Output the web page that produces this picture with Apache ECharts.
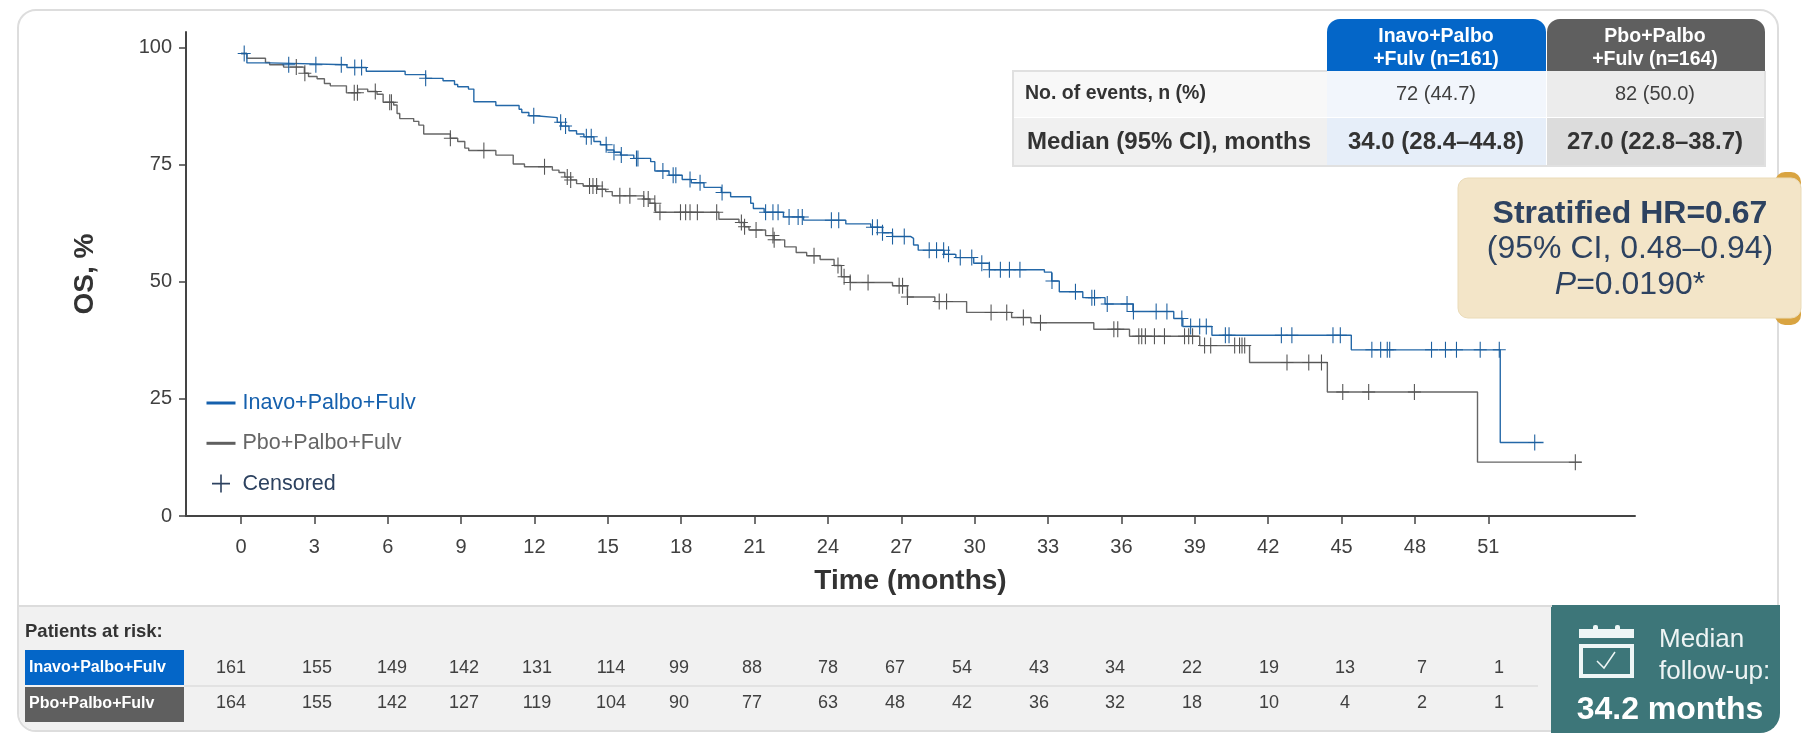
<!DOCTYPE html>
<html><head><meta charset="utf-8">
<style>html,body{margin:0;padding:0;background:#fff}#c{width:1811px;height:742px}</style>
<script src="https://cdn.jsdelivr.net/npm/echarts@6/dist/echarts.min.js"></script>
</head><body><div id="c"></div>
<script>
var inavoTimes=[0,0.24,1.17,4.33,5.12,6.71,7.55,8.26,8.73,8.86,9.30,9.52,10.42,11.37,11.48,11.77,12.04,12.93,13.09,13.41,13.72,14.02,14.43,14.70,14.95,15.25,15.52,16.06,16.75,16.92,17.5,18.04,18.41,18.93,19.64,20.02,20.84,20.95,21.39,22.18,23.0,24.73,25.75,26.23,26.64,27.39,27.5,27.69,28.75,29.23,29.96,30.6,32.85,33.15,33.46,34.42,35.33,36.47,38.14,38.51,39.70,45.4,51.49,53.26];
var inavoOS=[98.8,96.8,96.4,95.8,95.0,94.3,93.5,93.0,92.2,91.7,91.2,88.5,87.7,86.9,86.2,85.5,85.1,84.1,83.3,82.3,81.6,81.0,80.0,79.3,78.2,77.7,77.1,76.4,75.7,73.7,72.8,71.9,71.2,70.2,69.1,68.2,66.8,65.7,64.9,63.9,63.2,62.4,61.7,60.5,59.7,59.3,57.9,56.8,55.9,55.2,54.0,52.6,52.1,50.2,47.9,46.65,45.3,43.7,42.2,40.5,38.6,35.5,15.7,15.7];
var inavoCensored=[0.13,1.95,3.06,4.10,4.65,4.93,7.55,11.97,13.07,13.27,14.12,14.32,14.93,15.25,15.55,16.17,16.23,17.25,17.67,17.78,18.36,18.77,19.67,21.45,21.75,21.96,22.41,22.78,22.95,24.14,24.44,25.82,26.02,26.23,26.64,27.12,28.14,28.44,28.73,28.93,29.41,29.88,30.29,30.6,31.05,31.42,31.85,33.16,34.12,34.79,34.9,35.42,36.23,36.49,37.42,37.86,38.47,38.83,39.2,39.47,40.25,40.4,42.54,42.97,44.65,44.95,46.24,46.6,46.87,46.97,48.68,49.25,49.7,50.67,51.45,52.9];

var pboTimes=[0,0.24,1.0,1.17,1.74,2.59,2.76,3.11,3.41,3.65,4.31,4.77,5.18,5.56,5.81,6.24,6.38,6.49,7.06,7.27,7.47,8.56,8.86,9.15,9.31,10.42,11.13,11.59,12.73,13.0,13.24,13.48,13.72,13.99,14.57,14.91,15.18,16.47,16.72,16.95,19.54,20.36,20.57,20.77,21.45,21.8,22.23,22.7,23.13,23.68,24.25,24.55,24.91,26.64,27.25,28.37,29.67,31.51,32.3,34.87,36.33,39.2,41.24,44.42,50.56,54.82];
var pboOS=[98.8,97.8,96.9,96.4,95.9,94.6,93.9,93.4,92.4,91.9,90.4,91.2,90.7,90.1,88.4,87.8,86.0,84.9,84.3,83.5,81.6,80.7,80.0,78.6,78.1,77.1,75.2,74.6,73.9,73.4,72.4,71.8,71.0,70.5,69.8,69.3,68.4,67.7,66.8,64.9,63.4,62.7,61.8,61.1,59.9,59.0,57.5,56.3,55.6,54.8,53.5,51.1,49.9,49.2,46.8,45.8,43.5,42.4,41.3,39.9,38.4,36.4,32.8,26.5,11.5,11.5];
var pboCensored=[2.26,2.61,4.63,4.76,5.49,6.08,6.15,8.56,9.93,12.41,13.34,13.48,14.25,14.39,14.54,14.77,15.49,15.9,16.47,16.65,16.92,17.13,17.97,18.18,18.36,18.66,19.45,20.46,20.59,21.06,21.75,21.8,23.43,24.41,24.66,24.91,25.64,26.91,27.05,27.25,28.55,28.85,30.67,31.31,31.99,32.69,35.69,35.85,36.71,36.83,36.98,37.35,37.76,38.58,38.75,38.91,39.4,39.65,40.63,40.83,40.93,41.04,42.77,43.66,44.18,45.05,46.11,47.98,54.56];

var xTicks=[0,3,6,9,12,15,18,21,24,27,30,33,36,39,42,45,48,51];
var yTicks=[0,25,50,75,100];
var inavoRisk=[161,155,149,142,131,114,99,88,78,67,54,43,34,22,19,13,7,1];
var pboRisk=[164,155,142,127,119,104,90,77,63,48,42,36,32,18,10,4,2,1];
var riskColumnX=[231,317,392,464,537,611,679,752,828,895,962,1039,1115,1192,1269,1345,1422,1499];

var inavoName='Inavo+Palbo+Fulv', pboName='Pbo+Palbo+Fulv', censoredName='Censored';
var summaryRows=[
  ['No. of events, n (%)','72 (44.7)','82 (50.0)'],
  ['Median (95% CI), months','34.0 (28.4\u201344.8)','27.0 (22.8\u201338.7)']
];

function pairs(a,b){return a.map(function(t,i){return [t,b[i]];});}
function osAt(times,vals,t){var v=vals[0];for(var i=0;i<times.length;i++){if(times[i]<=t)v=vals[i];else break;}return v;}
function marks(c,times,vals){return c.map(function(t){return [t,osAt(times,vals,t)];});}

var FONT='"Liberation Sans", Arial, sans-serif';
var PLUS='path://M5.5 0H6.5V7.5H12V8.5H6.5V16H5.5V8.5H0V7.5H5.5Z';
var BLUE='#2468a8', GRAY='#666666', NAVY='#2d4260', TXT='#404040';

function rect(x,y,w,h,fill,r,extra){var o={type:'rect',silent:true,z:-5,shape:{x:x,y:y,width:w,height:h,r:r||0},style:{fill:fill}};for(var k in extra||{})o[k]=extra[k];return o;}
function text(t,x,y,size,opt){opt=opt||{};return {type:'text',silent:true,z:5,x:x,y:y,style:{text:t,fill:opt.fill||TXT,font:(opt.italic?'italic ':'')+(opt.bold?'bold ':'')+size+'px '+FONT,align:opt.align||'center',verticalAlign:'middle',rich:opt.rich}};}

var g=[];
g.push({type:'rect',silent:true,z:-10,shape:{x:18,y:10,width:1760,height:721,r:18},style:{fill:'#fff',stroke:'#dddddd',lineWidth:2}});
g.push(rect(19,606,1533,124,'#f1f1f1',[0,0,0,17]));
g.push({type:'line',silent:true,z:-4,shape:{x1:19,y1:606,x2:1552,y2:606},style:{stroke:'#dcdcdc',lineWidth:2}});
g.push({type:'line',silent:true,z:-4,shape:{x1:184,y1:686,x2:1538,y2:686},style:{stroke:'#dcdcdc',lineWidth:1.5}});
g.push(text('Patients at risk:',25,632,18.5,{bold:true,align:'left',fill:'#333'}));
g.push(rect(25,650,159,35,'#0466c8'));
g.push(rect(25,687,159,35,'#5f5f5f'));
g.push(text(inavoName,29,668,16,{bold:true,align:'left',fill:'#fff'}));
g.push(text(pboName,29,704,16,{bold:true,align:'left',fill:'#fff'}));
riskColumnX.forEach(function(x,i){
  g.push(text(String(inavoRisk[i]),x,668,18,{}));
  g.push(text(String(pboRisk[i]),x,703,18,{}));
});
g.push(rect(1551,605,229,128,'#3d7679',[0,0,20,0]));
g.push(text('Median',1659,640,26,{align:'left',fill:'#eef4f4'}));
g.push(text('follow-up:',1659,672,26,{align:'left',fill:'#eef4f4'}));
g.push(text('34.2 months',1670,710,32,{bold:true,fill:'#fff'}));
var ICON='#eef6f6';
g.push(rect(1579,629,55,9,ICON,0,{z:5}));
g.push(rect(1593,625,5,9,ICON,2,{z:6}));
g.push(rect(1615,625,5,9,ICON,2,{z:6}));
g.push({type:'rect',silent:true,z:5,shape:{x:1581,y:646,width:51,height:30},style:{fill:'none',stroke:ICON,lineWidth:4}});
g.push({type:'polyline',silent:true,z:5,shape:{points:[[1597,661],[1604,668],[1615,652]]},style:{fill:'none',stroke:ICON,lineWidth:1.5}});
g.push(rect(1327,19,219,52,'#0466c8',[13,13,0,0]));
g.push(rect(1547,19,218,52,'#5f5f5f',[13,13,0,0]));
g.push(text('Inavo+Palbo',1436,37,19.5,{bold:true,fill:'#fff'}));
g.push(text('+Fulv (n=161)',1436,60,19.5,{bold:true,fill:'#fff'}));
g.push(text('Pbo+Palbo',1655,37,19.5,{bold:true,fill:'#fff'}));
g.push(text('+Fulv (n=164)',1655,60,19.5,{bold:true,fill:'#fff'}));
g.push(rect(1013,71,314,46,'#f8f8f8'));
g.push(rect(1327,71,219,46,'#f2f6fc'));
g.push(rect(1547,71,218,46,'#ececec'));
g.push(rect(1013,118,314,48,'#f0f0f0'));
g.push(rect(1327,118,219,48,'#e6eef9'));
g.push(rect(1547,118,218,48,'#dcdcdc'));
g.push({type:'polyline',silent:true,z:-3,shape:{points:[[1327,71],[1013,71],[1013,166],[1765,166],[1765,71]]},style:{fill:'none',stroke:'#e0e0e0',lineWidth:2}});
g.push(text(summaryRows[0][0],1025,94,19.5,{bold:true,align:'left',fill:'#333'}));
g.push(text(summaryRows[0][1],1436,94,20,{}));
g.push(text(summaryRows[0][2],1655,94,20,{}));
g.push(text(summaryRows[1][0],1027,142,24,{bold:true,align:'left',fill:'#333'}));
g.push(text(summaryRows[1][1],1436,142,24,{bold:true,fill:'#333'}));
g.push(text(summaryRows[1][2],1655,142,24,{bold:true,fill:'#333'}));
g.push(rect(1775,172,26,153,'#d9a441',10,{z:1}));
g.push(rect(1458,178,343,140,'#f3e5c8',10,{z:2,style:{fill:'#f3e5c8',stroke:'#eadbb8',lineWidth:1}}));
g.push(text('Stratified HR=0.67',1630,214,32,{bold:true,fill:NAVY}));
g.push(text('(95% CI, 0.48\u20130.94)',1630,249,32,{fill:NAVY}));
g.push({type:'text',silent:true,z:5,x:1630,y:285,style:{text:'{i|P}{n|=0.0190*}',align:'center',verticalAlign:'middle',rich:{i:{font:'italic 32px '+FONT,fill:NAVY},n:{font:'32px '+FONT,fill:NAVY}}}});

var chart=echarts.init(document.getElementById('c'),null,{renderer:'canvas'});
chart.setOption({
  animation:false,
  backgroundColor:'#fff',
  textStyle:{fontFamily:FONT},
  graphic:{elements:g},
  grid:{left:186,right:176,top:32,bottom:226,containLabel:false},
  legend:{
    left:205,top:392,padding:0,orient:'vertical',itemWidth:29,itemHeight:18,itemGap:18.3,selectedMode:false,
    lineStyle:{width:3},
    textStyle:{fontSize:21.5,fontFamily:FONT,padding:[0,0,0,2]},
    data:[
      {name:inavoName,textStyle:{color:'#1560ad'},lineStyle:{color:'#1560ad',width:3},itemStyle:{opacity:0}},
      {name:pboName,textStyle:{color:'#666'},lineStyle:{color:'#5f5f5f',width:3},itemStyle:{opacity:0}},
      {name:censoredName,icon:'path://M8.2 0H9.8V8.2H18V9.8H9.8V18H8.2V9.8H0V8.2H8.2Z',itemStyle:{color:NAVY},textStyle:{color:NAVY}}
    ]
  },
  xAxis:{
    type:'value',min:-2.25,max:57,
    name:'Time (months)',nameLocation:'middle',nameGap:51,
    nameTextStyle:{fontSize:28,fontWeight:'bold',color:'#333',fontFamily:FONT},
    axisLine:{onZero:false,lineStyle:{color:'#444',width:2}},
    axisTick:{show:true,length:8,customValues:xTicks,lineStyle:{color:'#444',width:1.5}},
    axisLabel:{customValues:xTicks,fontSize:20,color:TXT,margin:21},
    splitLine:{show:false}
  },
  yAxis:{
    type:'value',min:0,max:103.4,
    name:'OS, %',nameLocation:'middle',nameGap:87,nameRotate:90,
    nameTextStyle:{fontSize:28,fontWeight:'bold',color:'#333',fontFamily:FONT},
    axisLine:{show:true,onZero:false,lineStyle:{color:'#444',width:2}},
    axisTick:{show:true,length:7,customValues:yTicks,lineStyle:{color:'#444',width:1.5}},
    axisLabel:{customValues:yTicks,fontSize:20,color:TXT,margin:14},
    splitLine:{show:false}
  },
  series:[
    {name:inavoName,type:'line',step:'end',symbol:'none',data:pairs(inavoTimes,inavoOS),lineStyle:{color:BLUE,width:1.4},itemStyle:{color:BLUE},z:3},
    {name:pboName,type:'line',step:'end',symbol:'none',data:pairs(pboTimes,pboOS),lineStyle:{color:GRAY,width:1.4},itemStyle:{color:GRAY},z:2},
    {name:censoredName,type:'scatter',symbol:PLUS,symbolSize:[13,16],data:marks(inavoCensored,inavoTimes,inavoOS),itemStyle:{color:'#1c5f9f',opacity:1},z:4},
    {name:censoredName+' (Pbo)',type:'scatter',symbol:PLUS,symbolSize:[13,16],data:marks(pboCensored,pboTimes,pboOS),itemStyle:{color:'#555555',opacity:1},z:3}
  ]
});
</script></body></html>
